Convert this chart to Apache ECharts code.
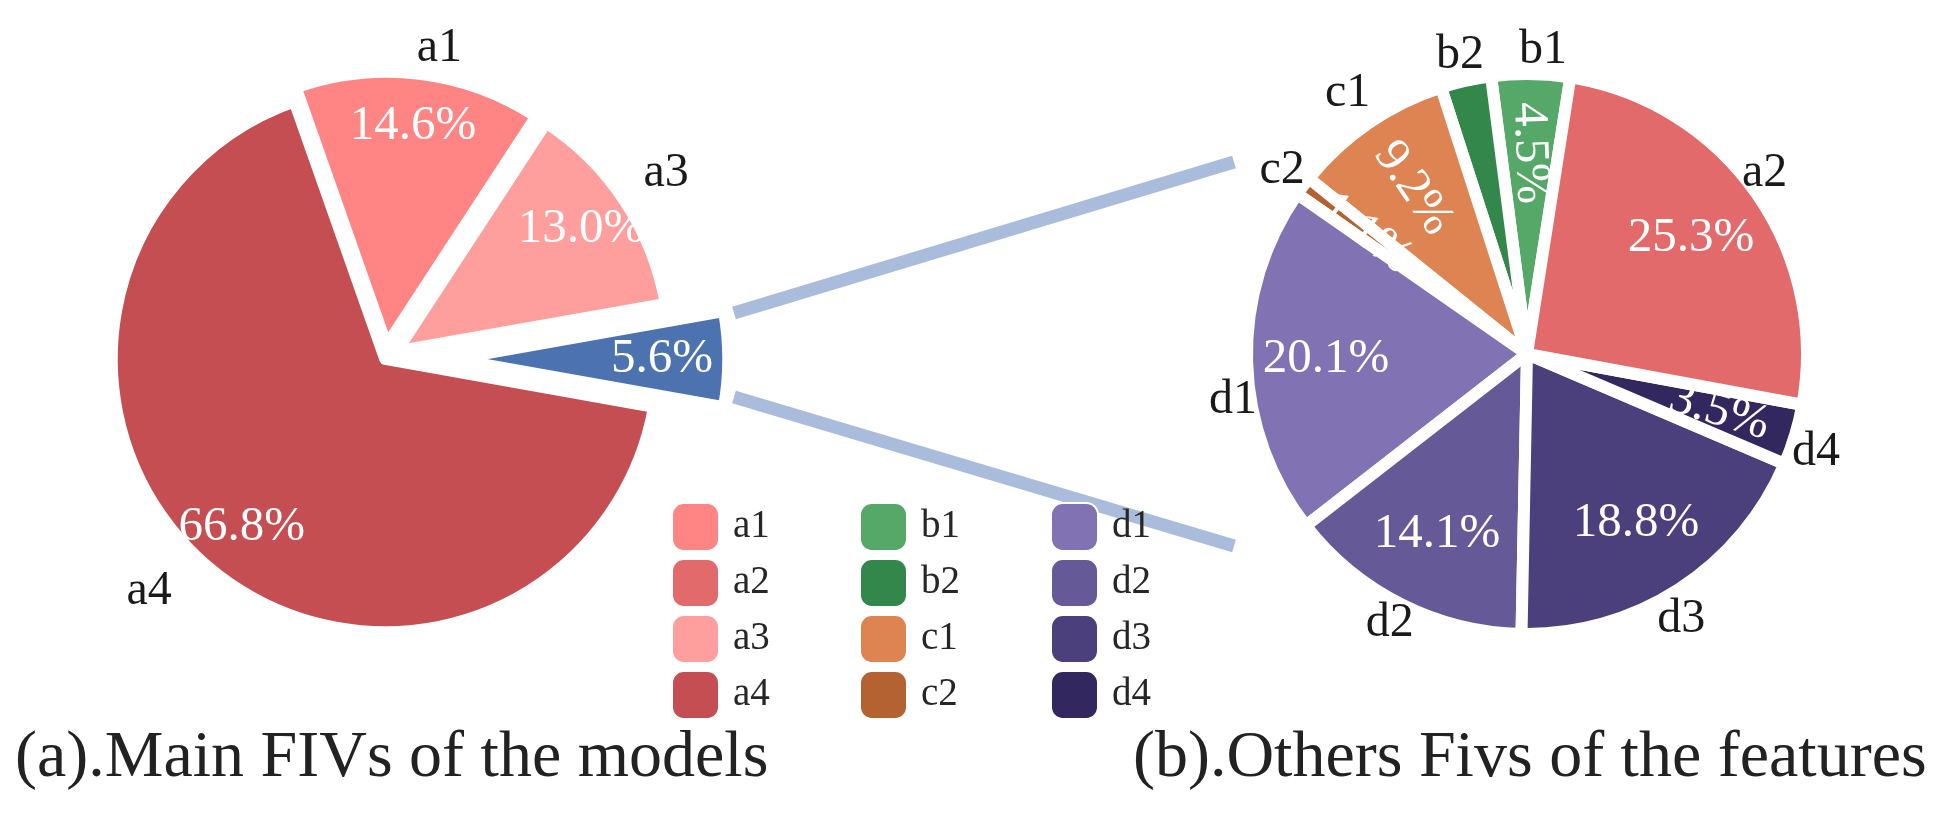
<!DOCTYPE html>
<html>
<head>
<meta charset="utf-8">
<script src="https://cdn.jsdelivr.net/npm/echarts@6/dist/echarts.min.js"></script>
<style>
html,body{margin:0;padding:0;background:#ffffff;}
#chart{width:1957px;height:822px;}
</style>
</head>
<body>
<div id="chart"></div>
<script>
// ---------------- data ----------------
const leftNames  = ['a1', 'a3', 'Others', 'a4'];
const leftValues = [14.6, 13.0, 5.6, 66.8];

const rightNames  = ['b1', 'b2', 'c1', 'c2', 'd1', 'd2', 'd3', 'd4', 'a2'];
const rightValues = [4.5, 2.9, 9.2, 1.1, 20.1, 14.1, 18.8, 3.5, 25.3];

const legendColumns = [
  ['a1', 'a2', 'a3', 'a4'],
  ['b1', 'b2', 'c1', 'c2'],
  ['d1', 'd2', 'd3', 'd4']
];

const titleTexts = ['(a).Main FIVs of the models', '(b).Others Fivs of the features'];

// ---------------- styles / layout ----------------
const colors = {
  a1: '#fe8583', a2: '#e36a6b', a3: '#fe9f9d', a4: '#c44e52',
  Others: '#4c72b0',
  b1: '#55a868', b2: '#33874a', c1: '#dd8452', c2: '#b56233',
  d1: '#8172b3', d2: '#655a97', d3: '#4b3f7c', d4: '#32285f'
};
const FONT = 'Liberation Serif';
const CLEAR = 'rgba(0,0,0,0)';

const LC = [385, 359], LR = 273;
const RC = [1527, 354], RR = 280;
const leftSelected = ['a1', 'a3'];
const radialNames = ['b2', 'c1', 'c2', 'd4'];
const fixedRotate = { b1: -88 };
const connectors = [
  { x1: 734, y1: 313, x2: 1234, y2: 162 },
  { x1: 734, y1: 397, x2: 1234, y2: 546 }
];
const legendLeft = [671, 859, 1050];
// small nudges of the outer name labels (pixels)
const nameNudge = {
  a1: [16, 8], a4: [-28, -12],
  a2: [-12, -4], d4: [-4, 10], d3: [-12, 8], d2: [0, -4], d1: [12, 38], c1: [-6, -8], b1: [12, 2]
};

const pctFormatter = p => p.value.toFixed(1) + '%';
const pctLabel = { show: true, position: 'inside', formatter: pctFormatter, fontSize: 49, fontFamily: FONT, color: '#ffffff' };
const nameLabel = { show: true, position: 'inside', formatter: '{b}', fontSize: 48, fontFamily: FONT, color: '#1a1a1a' };

function ghost(extra) {
  return Object.assign({
    type: 'pie', silent: true, z: 4, emphasis: { disabled: true },
    itemStyle: { color: CLEAR, borderWidth: 0 }, labelLine: { show: false }
  }, extra);
}
function nudgeLayout(names) {
  return function (p) {
    const d = nameNudge[names[p.dataIndex]];
    return d ? { dx: d[0], dy: d[1] } : {};
  };
}

// ---------------- left pie series ----------------
const leftMain = {
  type: 'pie', center: LC, radius: [0, LR], startAngle: 109.4, clockwise: true,
  selectedMode: 'multiple', selectedOffset: 14, emphasis: { disabled: true }, z: 2,
  itemStyle: { borderColor: '#ffffff', borderWidth: 11.5 },
  label: { show: false }, labelLine: { show: false },
  data: leftNames.map((n, i) => ({
    name: n, value: leftValues[i], selected: leftSelected.includes(n),
    itemStyle: n === 'Others' ? { color: CLEAR, borderWidth: 0 } : { color: colors[n] }
  }))
};
const leftBlue = {
  type: 'pie', center: LC, radius: [0, LR], startAngle: 109.4, clockwise: true,
  selectedMode: 'multiple', selectedOffset: 70, emphasis: { disabled: true }, z: 3,
  label: { show: false }, labelLine: { show: false },
  data: leftNames.map((n, i) => ({
    name: n, value: leftValues[i], selected: n === 'Others',
    itemStyle: n === 'Others' ? { color: colors[n], borderColor: '#ffffff', borderWidth: 11.5 }
                              : { color: CLEAR, borderWidth: 0 }
  }))
};
const leftPct = ghost({
  center: LC, radius: [170, 266], startAngle: 109.4, clockwise: true,
  selectedMode: 'multiple', selectedOffset: 14, label: pctLabel,
  data: leftNames.map((n, i) => ({
    name: n, value: leftValues[i], selected: leftSelected.includes(n),
    label: n === 'Others' ? { show: false } : {}
  }))
});
const leftPctBlue = ghost({
  center: LC, radius: [140, 268], startAngle: 109.4, clockwise: true,
  selectedMode: 'multiple', selectedOffset: 70, label: pctLabel,
  data: leftNames.map((n, i) => ({
    name: n, value: leftValues[i], selected: n === 'Others',
    label: n === 'Others' ? {} : { show: false }
  }))
});
const leftNamesRing = ghost({
  center: LC, radius: [298, 338], startAngle: 109.4, clockwise: true,
  selectedMode: 'multiple', selectedOffset: 16, label: nameLabel,
  labelLayout: nudgeLayout(leftNames),
  data: leftNames.map((n, i) => ({
    name: n, value: leftValues[i], selected: n === 'a3',
    label: n === 'Others' ? { show: false } : {}
  }))
});

// ---------------- right pie series ----------------
const rightMain = {
  type: 'pie', center: RC, radius: [0, RR], startAngle: 81.1, clockwise: false,
  emphasis: { disabled: true }, z: 2,
  itemStyle: { borderColor: '#ffffff', borderWidth: 12 },
  label: { show: false }, labelLine: { show: false },
  data: rightNames.map((n, i) => ({ name: n, value: rightValues[i], itemStyle: { color: colors[n] } }))
};
const rightPct = ghost({
  center: RC, radius: [116, RR], startAngle: 81.1, clockwise: false, label: pctLabel,
  data: rightNames.map((n, i) => {
    const item = { name: n, value: rightValues[i] };
    if (fixedRotate[n] !== undefined) item.label = { rotate: fixedRotate[n] };
    else if (radialNames.includes(n)) item.label = { rotate: 'radial' };
    return item;
  })
});
const rightNamesRing = ghost({
  center: RC, radius: [283, 323], startAngle: 81.1, clockwise: false, label: nameLabel,
  labelLayout: nudgeLayout(rightNames),
  data: rightNames.map((n, i) => ({ name: n, value: rightValues[i] }))
});

// ---------------- chart ----------------
const chart = echarts.init(document.getElementById('chart'), null, { renderer: 'canvas' });
chart.setOption({
  backgroundColor: '#ffffff',
  animation: false,
  title: [
    { text: titleTexts[0], left: 15, top: 726, padding: 0,
      textStyle: { fontSize: 66, fontFamily: FONT, fontWeight: 'normal', color: '#222222' } },
    { text: titleTexts[1], left: 1133, top: 726, padding: 0,
      textStyle: { fontSize: 66, fontFamily: FONT, fontWeight: 'normal', color: '#222222' } }
  ],
  legend: legendColumns.map((col, i) => ({
    data: col, orient: 'vertical', left: legendLeft[i], top: 502, padding: 0,
    itemWidth: 47, itemHeight: 48, itemGap: 6, icon: 'roundRect', selectedMode: false,
    textStyle: { fontSize: 39, fontFamily: FONT, color: '#262626', padding: [0, 0, 0, 9] }
  })),
  graphic: connectors.map(c => ({
    type: 'line', z: 1, silent: true,
    shape: { x1: c.x1, y1: c.y1, x2: c.x2, y2: c.y2 },
    style: { stroke: '#a9bcdb', lineWidth: 13 }
  })),
  series: [leftMain, rightMain, leftBlue, leftPct, leftPctBlue, leftNamesRing, rightPct, rightNamesRing]
});
</script>
</body>
</html>
